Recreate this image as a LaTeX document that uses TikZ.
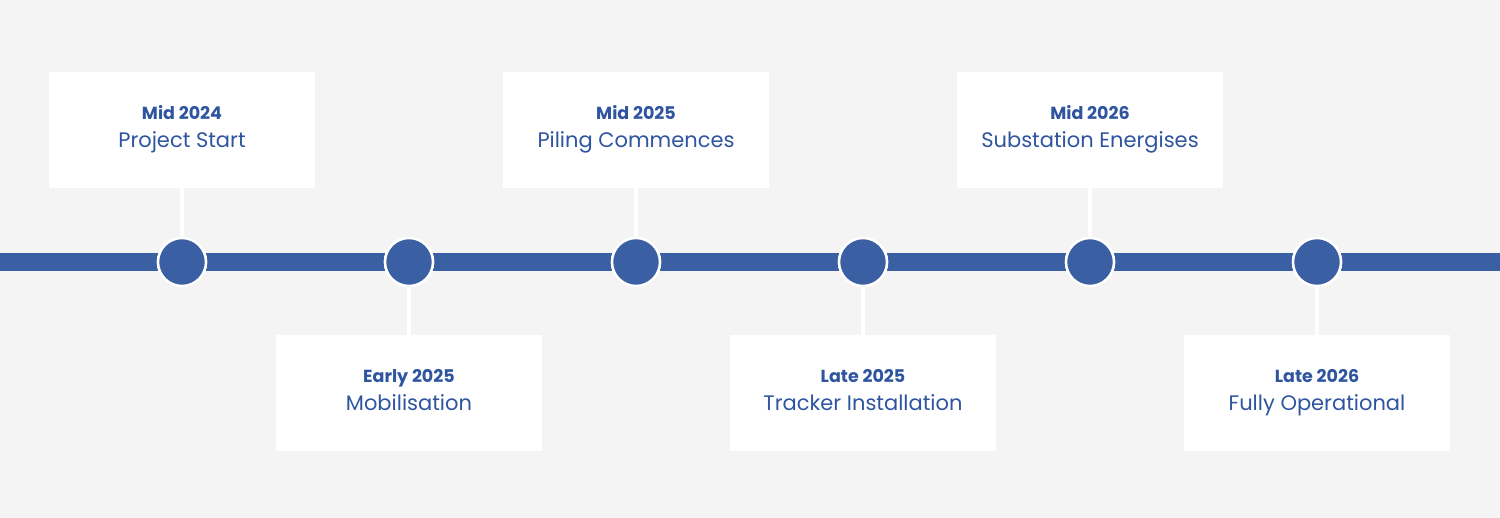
\documentclass[tikz,border=0pt]{standalone}
\usepackage{fontspec}
\setmainfont{Poppins}
\definecolor{bg}{HTML}{F4F4F4}
\definecolor{tl}{HTML}{3B5FA3}
\definecolor{tx}{HTML}{2F55A0}
\begin{document}
\begin{tikzpicture}[x=1pt,y=1pt,
  card/.style={fill=white,minimum width=266pt,minimum height=116pt,inner sep=0pt},
  dot/.style={circle,fill=tl,draw=white,line width=2.5pt,minimum size=48pt,inner sep=0pt},
  stem/.style={draw=white,line width=4pt},
  hd/.style={anchor=base,text=tx,inner sep=0pt,font=\fontsize{17.5}{20}\selectfont\bfseries},
  sb/.style={anchor=base,text=tx,inner sep=0pt,font=\fontsize{21}{25}\selectfont}]
\fill[bg] (0,0) rectangle (1500,518);
\useasboundingbox (0,0) rectangle (1500,518);
\draw[tl,line width=18pt] (0,256) -- (1500,256);
\foreach \i/\x/\top/\d/\t in {1/182/1/Mid 2024/Project Start,2/409/0/Early 2025/Mobilisation,3/636/1/Mid 2025/Piling Commences,4/863/0/Late 2025/Tracker Installation,5/1090/1/Mid 2026/Substation Energises,6/1317/0/Late 2026/Fully Operational}{
  \ifnum\top=1
    \node[card] (c\i) at (\x,388) {};
  \else
    \node[card] (c\i) at (\x,125) {};
  \fi
  \node[hd] (h\i) at ([yshift=-48pt]c\i.north) {\d};
  \node[sb] (s\i) at ([yshift=-76pt]c\i.north) {\t};
  \node[dot] (d\i) at (\x,256) {};
  \draw[stem] (c\i) -- (d\i);
  \node[dot] at (d\i) {};
}
\end{tikzpicture}
\end{document}
